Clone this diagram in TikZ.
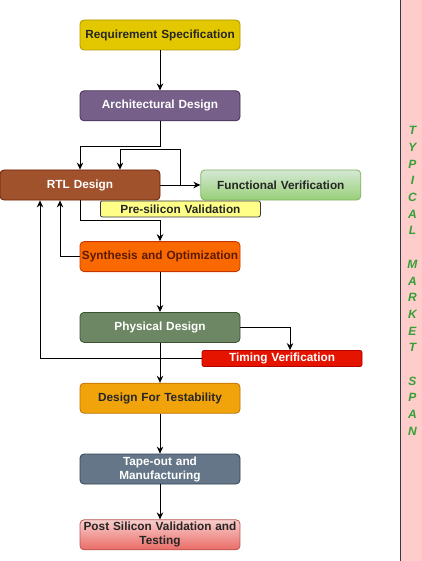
\documentclass[tikz,border=0pt]{standalone}
\usepackage{fontspec}
\setmainfont{Liberation Sans}
\usepackage{tikz}
\usepackage{xcolor}
\usetikzlibrary{calc, shapes.geometric, arrows, arrows.meta, positioning, fit}

\definecolor{reqfill}{HTML}{E3C800}
\definecolor{reqline}{HTML}{B09500}
\definecolor{archfill}{HTML}{76608A}
\definecolor{archline}{HTML}{432D57}
\definecolor{rtlfill}{HTML}{A0522D}
\definecolor{rtlline}{HTML}{6D1F00}
\definecolor{fvtop}{HTML}{D5E8D4}
\definecolor{fvbot}{HTML}{97D077}
\definecolor{fvline}{HTML}{82B366}
\definecolor{prefill}{HTML}{FFFF88}
\definecolor{preline}{HTML}{36393D}
\definecolor{synfill}{HTML}{FA6800}
\definecolor{synline}{HTML}{C73500}
\definecolor{syntext}{HTML}{5A1A00}
\definecolor{physfill}{HTML}{6D8764}
\definecolor{physline}{HTML}{3A5431}
\definecolor{tvfill}{HTML}{E51400}
\definecolor{tvline}{HTML}{B20000}
\definecolor{dftfill}{HTML}{F0A30A}
\definecolor{dftline}{HTML}{BD7000}
\definecolor{tapefill}{HTML}{647687}
\definecolor{tapeline}{HTML}{314354}
\definecolor{posttop}{HTML}{F8CECC}
\definecolor{postbot}{HTML}{EA6B66}
\definecolor{postline}{HTML}{B85450}
\definecolor{spanfill}{HTML}{FFCCCC}
\definecolor{spanline}{HTML}{36393D}
\definecolor{spantext}{HTML}{34A034}

\begin{document}
    \begin{tikzpicture}[
            x=1pt, y=1pt,
            font=\fontsize{11.8}{14}\selectfont\bfseries,
            stage/.style={draw, line width=0.8pt, rounded corners=4pt, minimum height=30pt,
                    inner sep=0.5pt, text width=159pt, align=center},
            tag/.style={draw, line width=0.8pt, rounded corners=2pt, minimum height=16pt,
                    inner sep=0pt, text width=160pt, align=center},
            flow/.style={-{Stealth[length=7pt, width=6.5pt]}, line width=0.9pt},
            reqbox/.style={fill=reqfill, draw=reqline, text=black!85},
            archbox/.style={fill=archfill, draw=archline, text=white},
            rtlbox/.style={fill=rtlfill, draw=rtlline, text=white},
            fvbox/.style={top color=fvtop, bottom color=fvbot, draw=fvline, text=black!85},
            prebox/.style={fill=prefill, draw=preline, text=black!85},
            synbox/.style={fill=synfill, draw=synline, text=syntext},
            physbox/.style={fill=physfill, draw=physline, text=white},
            tvbox/.style={fill=tvfill, draw=tvline, text=white},
            dftbox/.style={fill=dftfill, draw=dftline, text=black!85},
            tapebox/.style={fill=tapefill, draw=tapeline, text=white},
            postbox/.style={top color=posttop, bottom color=postbot, draw=postline, text=black!85}
        ]
        \useasboundingbox (0,0) rectangle (421,-561);

        \node[draw=spanline, fill=spanfill, line width=0.9pt, anchor=north west,
            minimum width=24pt, minimum height=564pt, inner sep=0pt, text=spantext,
            align=center, font=\fontsize{12}{16.7}\selectfont\bfseries\itshape]
            (span) at (400,1.5)
            {T\\Y\\P\\I\\C\\A\\L\\\mbox{}\\M\\A\\R\\K\\E\\T\\\mbox{}\\S\\P\\A\\N};

        \node[stage, reqbox] (req) at (160,-35) {Requirement Specification};
        \node[stage, archbox, below=40pt of req] (arch) {Architectural Design};
        \node[stage, rtlbox] (rtl) at (80,-185) {RTL Design};
        \node[stage, fvbox, right=40pt of rtl] (fv) {Functional Verification};
        \node[tag, prebox, anchor=north west] (pre) at (100,-200.5) {Pre-silicon Validation};
        \node[stage, synbox, below=120pt of arch] (syn) {Synthesis and Optimization};
        \node[stage, physbox, below=40pt of syn] (phys) {Physical Design};
        \node[tag, tvbox] (tv) at (282,-358.5) {Timing Verification};
        \node[stage, dftbox, below=40pt of phys] (dft) {Design For Testability};
        \node[stage, tapebox, below=40pt of dft] (tape) {Tape-out and\\Manufacturing};
        \node[stage, postbox, below=35pt of tape] (post) {Post Silicon Validation and\\Testing};

        \coordinate (fork) at ($(rtl.east)+(20,0)$);

        \draw[flow] (req) -- (arch);
        \draw[flow] (arch.south) -- ++(0,-25) -| (rtl.north);
        \draw[flow] (rtl.east) -- (fv.west);
        \draw[flow] (fork) |- ($(rtl.north)+(40,20)$) -- ($(rtl.north)+(40,0)$);
        \draw[flow] (rtl.south) -- ++(0,-20) -| (syn.north);
        \draw[flow] (syn.west) -| ($(rtl.south)+(-20,0)$);
        \draw[flow] (tv.west) -| ($(rtl.south)+(-40,0)$);
        \draw[flow] (syn) -- (phys);
        \draw[flow] (phys.east) -| ($(tv.north)+(8,0)$);
        \draw[flow] (phys) -- (dft);
        \draw[flow] (dft) -- (tape);
        \draw[flow] (tape) -- (post);
    \end{tikzpicture}
\end{document}
